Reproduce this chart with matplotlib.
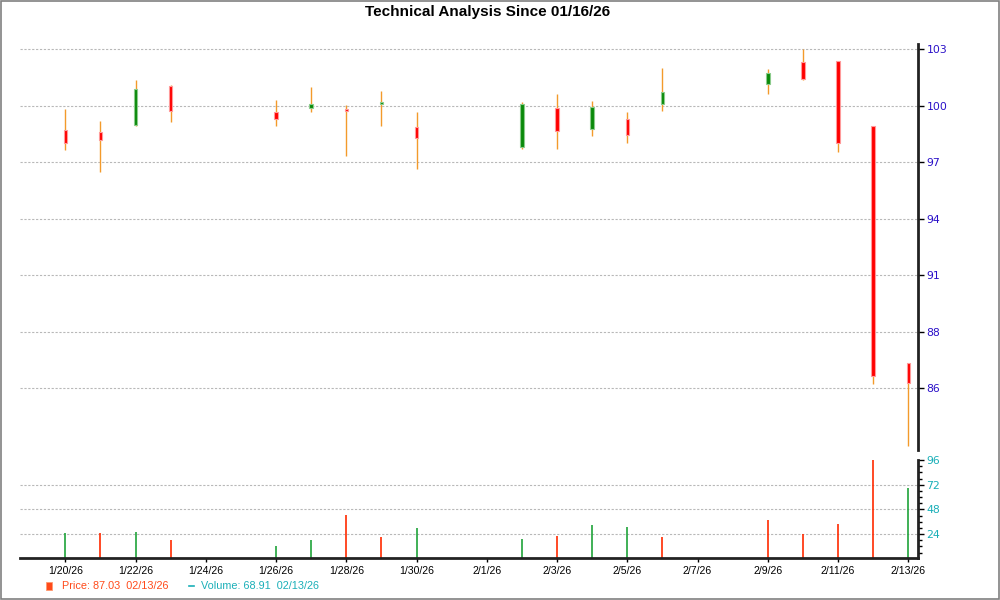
import matplotlib
matplotlib.use("Agg")
import matplotlib.pyplot as plt
import matplotlib.dates as mdates
from matplotlib.ticker import FixedLocator, MultipleLocator
import matplotlib.patches as mpatches
import datetime as dt

# ---------------- data ----------------
dates = ["2026-01-20", "2026-01-21", "2026-01-22", "2026-01-23",
         "2026-01-26", "2026-01-27", "2026-01-28", "2026-01-29", "2026-01-30",
         "2026-02-02", "2026-02-03", "2026-02-04", "2026-02-05", "2026-02-06",
         "2026-02-09", "2026-02-10", "2026-02-11", "2026-02-12", "2026-02-13"]
opens  = [98.95, 98.84, 99.19, 101.15, 99.84, 100.04, 100.01, 100.27, 99.09,
          98.12, 100.04, 98.99, 99.49, 100.24, 101.25, 102.35, 102.40, 99.14, 87.25]
highs  = [100.01, 99.41, 101.46, 101.20, 100.46, 101.11, 100.21, 100.91, 99.86,
          100.37, 100.76, 100.41, 99.86, 102.06, 102.01, 103.02, 102.42, 99.16, 87.27]
lows   = [97.95, 96.86, 99.15, 99.37, 99.17, 99.87, 97.67, 99.17, 97.01,
          97.99, 97.99, 98.67, 98.29, 99.92, 100.77, 101.48, 97.87, 86.23, 83.12]
closes = [98.29, 98.44, 100.99, 99.89, 99.49, 100.24, 99.92, 100.36, 98.57,
          100.24, 98.90, 100.09, 98.69, 100.84, 101.80, 101.50, 98.32, 86.62, 86.25]
volumes = [24.8, 24.8, 25.8, 18.0, 12.2, 18.0, 42.3, 20.6, 29.7,
           19.0, 21.9, 32.6, 30.6, 20.9, 37.5, 23.8, 33.6, 95.8, 68.91]
volume_up = [True, False, True, False, True, True, False, False, True,
             True, False, True, True, False, False, False, False, False, True]

price_ticks = [86.0 + i * 17.0 / 6.0 for i in range(7)]
price_tick_labels = ["86", "88", "91", "94", "97", "100", "103"]
volume_ticks = [24, 48, 72, 96]
volume_tick_labels = ["24", "48", "72", "96"]
xtick_dates = ["2026-01-20", "2026-01-22", "2026-01-24", "2026-01-26", "2026-01-28",
               "2026-01-30", "2026-02-01", "2026-02-03", "2026-02-05", "2026-02-07",
               "2026-02-09", "2026-02-11", "2026-02-13"]
xtick_labels = ["1/20/26", "1/22/26", "1/24/26", "1/26/26", "1/28/26", "1/30/26",
                "2/1/26", "2/3/26", "2/5/26", "2/7/26", "2/9/26", "2/11/26", "2/13/26"]
title = "Technical Analysis Since 01/16/26"
legend_price = "Price: 87.03  02/13/26"
legend_volume = "Volume: 68.91  02/13/26"

# ---------------- figure ----------------
fig = plt.figure(figsize=(10, 6), dpi=100)
fig.patch.set_facecolor("white")

ax_p = fig.add_axes([0.02, 0.25, 0.898, 0.6767])
ax_v = fig.add_axes([0.02, 0.0705, 0.898, 0.1628])

xs = [mdates.date2num(dt.datetime.strptime(d, "%Y-%m-%d")) for d in dates]
xt = [mdates.date2num(dt.datetime.strptime(d, "%Y-%m-%d")) for d in xtick_dates]
x0 = xs[0] - 1.29
x1 = xs[-1] + 0.276

wick_color = "#F39A2B"
up_body, up_edge = "#0A8A0A", "#8CCB8C"
dn_body, dn_edge = "#FF0000", "#FF9A9A"
body_w = 0.1

for x, o, h, l, c in zip(xs, opens, highs, lows, closes):
    ax_p.vlines(x, l, h, color=wick_color, lw=1.0, zorder=2)
    up = c >= o
    bottom = min(o, c)
    height = max(abs(c - o), 0.06)
    ax_p.bar(x, height, bottom=bottom, width=body_w,
             color=up_body if up else dn_body,
             edgecolor=up_edge if up else dn_edge, linewidth=0.8, zorder=3)

ax_p.set_xlim(x0, x1)
ax_p.set_ylim(82.91, 103.27)
ax_p.yaxis.tick_right()
ax_p.yaxis.set_major_locator(FixedLocator(price_ticks))
ax_p.set_yticklabels(price_tick_labels, fontsize=7.8, color="#2A10C8", family="DejaVu Sans")
ax_p.tick_params(axis="y", direction="out", length=4, width=1, color="black", pad=2)
ax_p.set_xticks([])
for s in ["left", "top", "bottom"]:
    ax_p.spines[s].set_visible(False)
ax_p.spines["right"].set_linewidth(2)
ax_p.spines["right"].set_color("#222222")
ax_p.grid(axis="y", color="#B8B8B8", linestyle=(0, (2, 1.5)), linewidth=0.8, zorder=0)

# volume
for x, v, up in zip(xs, volumes, volume_up):
    ax_v.vlines(x, 0, v, color="#1FA33A" if up else "#FF2A00", lw=1.2, zorder=2)

ax_v.set_xlim(x0, x1)
ax_v.set_ylim(0.94, 96)
ax_v.yaxis.tick_right()
ax_v.yaxis.set_major_locator(FixedLocator(volume_ticks))
ax_v.yaxis.set_minor_locator(MultipleLocator(6))
ax_v.set_yticklabels(volume_tick_labels, fontsize=7.8, color="#1AAFB8", family="DejaVu Sans")
ax_v.tick_params(axis="y", which="major", direction="out", length=4, width=1, color="black", pad=2)
ax_v.tick_params(axis="y", which="minor", direction="out", length=3, width=1, color="black")
ax_v.set_xticks(xt)
ax_v.set_xticklabels(xtick_labels, fontsize=7.6, family="Liberation Sans", color="black")
ax_v.tick_params(axis="x", direction="out", length=3, width=1, color="black", pad=3)
for s in ["left", "top"]:
    ax_v.spines[s].set_visible(False)
for s in ["right", "bottom"]:
    ax_v.spines[s].set_linewidth(2)
    ax_v.spines[s].set_color("#222222")
ax_v.grid(axis="y", color="#B8B8B8", linestyle=(0, (2, 1.5)), linewidth=0.8, zorder=0)
for gl, t in zip(ax_v.get_ygridlines(), volume_ticks):
    if t == 96:
        gl.set_visible(False)

# title
fig.text(0.488, 0.980, title, ha="center", va="center", fontsize=11,
         fontweight="bold", family="Liberation Sans", color="black")

# legend
fig.patches.append(mpatches.Rectangle((0.046, 0.0165), 0.006, 0.014, transform=fig.transFigure,
                                      facecolor="#FF4A1A", edgecolor="#FF9A70", lw=0.6))
fig.text(0.062, 0.0235, legend_price, ha="left", va="center", fontsize=7.8,
         family="Liberation Sans", color="#FF4A1A")
fig.lines.append(plt.Line2D([0.189, 0.194], [0.0235, 0.0235], transform=fig.transFigure,
                            color="#1AAFB8", lw=1.2))
fig.text(0.201, 0.0235, legend_volume, ha="left", va="center", fontsize=7.8,
         family="Liberation Sans", color="#1AAFB8")

# figure frame
fig.patches.append(mpatches.Rectangle((0.0008, 0.0012), 0.9984, 0.9976, transform=fig.transFigure,
                                      fill=False, edgecolor="#808080", lw=1.2))

fig.savefig("out.png", dpi=100, facecolor="white")
